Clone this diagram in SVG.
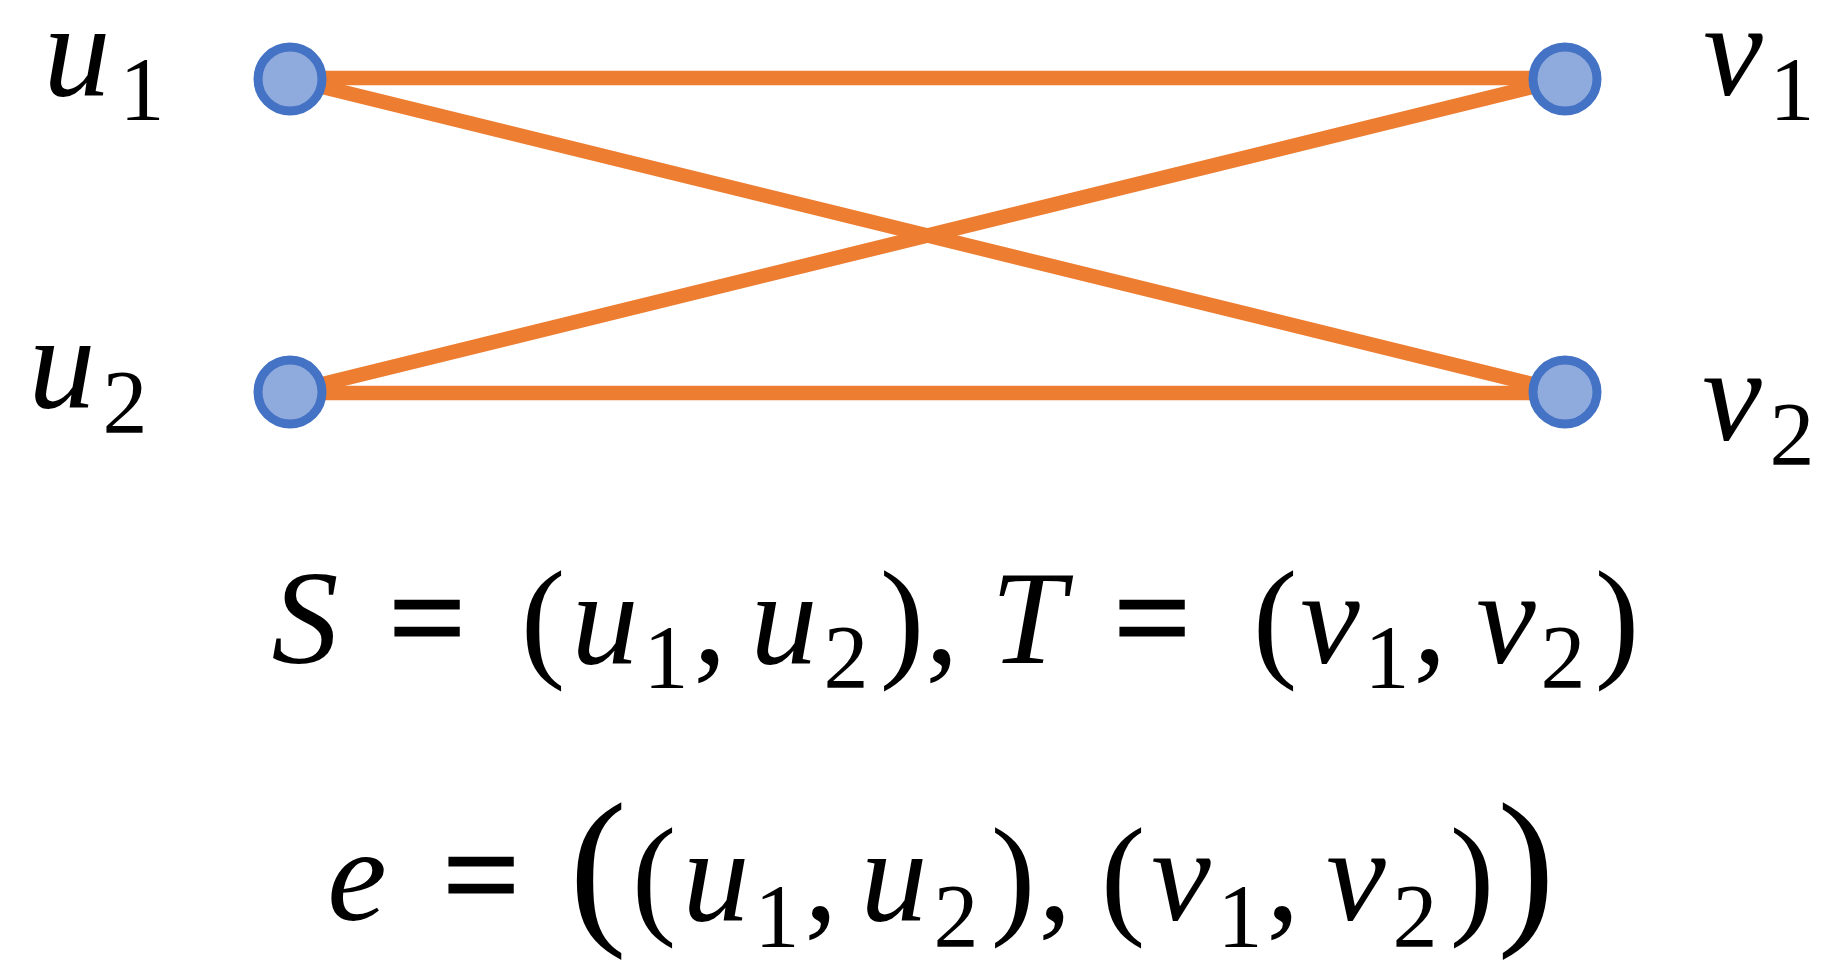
<svg xmlns="http://www.w3.org/2000/svg" width="1833" height="979" viewBox="0 0 1833 979">
<style>
.node{fill:#8FAADC;stroke:#4472C4;stroke-width:9}
.edge{stroke:#ED7D31;stroke-width:14.5;stroke-linecap:butt;fill:none}
text{font-family:'Liberation Serif','DejaVu Serif',serif;font-size:134px;fill:#000;text-anchor:middle}
.i{font-style:italic}
.s{font-size:90px}
.b{font-size:173px}
.eq{stroke:#000;stroke-width:3}
</style>
<rect width="1833" height="979" fill="#FFFFFF"/>
<g id="connectors">
<line class="edge" x1="290" y1="78" x2="1565" y2="78"/>
<line class="edge" x1="290" y1="79" x2="1565" y2="392"/>
<line class="edge" x1="1565" y1="79" x2="290" y2="392"/>
<line class="edge" x1="290" y1="393" x2="1565" y2="393"/>
</g>
<g id="node-u1">
<circle class="node" cx="290" cy="79" r="32"/>
<text class="i" x="77" y="95">u</text><text class="s" x="142" y="120">1</text>
</g>
<g id="node-u2">
<circle class="node" cx="290" cy="392" r="32"/>
<text class="i" x="62" y="407">u</text><text class="s" x="125" y="433">2</text>
</g>
<g id="node-v1">
<circle class="node" cx="1565" cy="79" r="32"/>
<text class="i" x="1733" y="95">v</text><text class="s" x="1792" y="120">1</text>
</g>
<g id="node-v2">
<circle class="node" cx="1565" cy="392" r="32"/>
<text class="i" x="1732" y="440">v</text><text class="s" x="1792" y="465">2</text>
</g>
<g id="eq1">
<text class="i" x="305" y="663">S</text>
<text class="eq" x="427" y="663">=</text>
<text x="543" y="663">(</text>
<text class="i" x="605" y="663">u</text>
<text class="s" x="666" y="688">1</text>
<text x="710" y="663">,</text>
<text class="i" x="784" y="663">u</text>
<text class="s" x="846" y="688">2</text>
<text x="902" y="663">)</text>
<text x="942" y="663">,</text>
<text class="i" x="1028" y="663">T</text>
<text class="eq" x="1152" y="663">=</text>
<text x="1275" y="663">(</text>
<text class="i" x="1330" y="663">v</text>
<text class="s" x="1387" y="688">1</text>
<text x="1430" y="663">,</text>
<text class="i" x="1506" y="663">v</text>
<text class="s" x="1563" y="688">2</text>
<text x="1617" y="663">)</text>
</g>
<g id="eq2">
<text class="i" x="357" y="920">e</text>
<text class="eq" x="481" y="920">=</text>
<text class="b" x="598" y="923">(</text>
<text x="654" y="920">(</text>
<text class="i" x="716" y="920">u</text>
<text class="s" x="777" y="947">1</text>
<text x="821" y="920">,</text>
<text class="i" x="894" y="920">u</text>
<text class="s" x="956" y="947">2</text>
<text x="1013" y="920">)</text>
<text x="1055" y="920">,</text>
<text x="1123" y="920">(</text>
<text class="i" x="1181" y="920">v</text>
<text class="s" x="1240" y="947">1</text>
<text x="1283" y="920">,</text>
<text class="i" x="1356" y="920">v</text>
<text class="s" x="1415" y="947">2</text>
<text x="1472" y="920">)</text>
<text class="b" x="1526" y="923">)</text>
</g>
</svg>
